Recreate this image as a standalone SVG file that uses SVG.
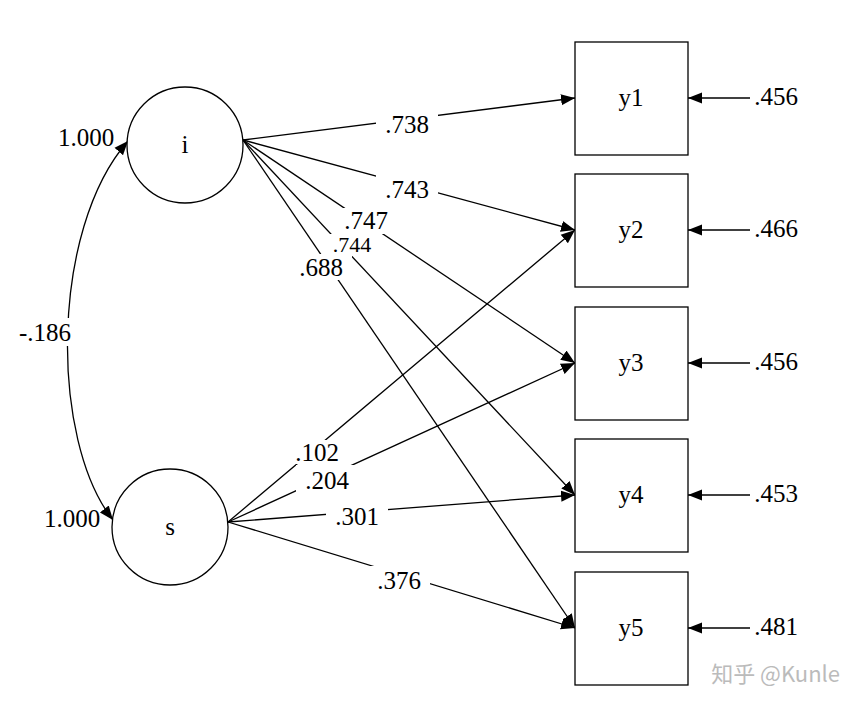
<svg xmlns="http://www.w3.org/2000/svg" width="865" height="708" viewBox="0 0 865 708">
<defs>
<marker id="a2" viewBox="0 0 10 10" refX="10" refY="5" markerWidth="14" markerHeight="14" markerUnits="userSpaceOnUse" orient="auto-start-reverse"><path d="M0,1L10,5L0,9z" fill="#000"/></marker>
<style>
text{font-family:"Liberation Serif","Times New Roman",serif;font-size:25px;fill:#000}
.n{fill:#fff;stroke:#000;stroke-width:1.3}
line,path.c{stroke:#000;stroke-width:1.3;fill:none}
.bg{fill:#fff}
</style>
</defs>
<rect width="865" height="708" fill="#fff"/>
<g id="connectors">
<path class="c" d="M128,141 C50,230 50,440 113,520" marker-start="url(#a2)" marker-end="url(#a2)"/>
<line x1="243" y1="140" x2="575" y2="98" marker-end="url(#a2)"/>
<line x1="243" y1="140" x2="575" y2="230" marker-end="url(#a2)"/>
<line x1="243" y1="140" x2="575" y2="363" marker-end="url(#a2)"/>
<line x1="243" y1="140" x2="575" y2="495" marker-end="url(#a2)"/>
<line x1="243" y1="140" x2="575" y2="628" marker-end="url(#a2)"/>
<line x1="228" y1="522" x2="575" y2="230" marker-end="url(#a2)"/>
<line x1="228" y1="522" x2="575" y2="363" marker-end="url(#a2)"/>
<line x1="228" y1="522" x2="575" y2="495" marker-end="url(#a2)"/>
<line x1="228" y1="522" x2="575" y2="628" marker-end="url(#a2)"/>
<line x1="750" y1="98" x2="688" y2="98" marker-end="url(#a2)"/>
<line x1="750" y1="230" x2="688" y2="230" marker-end="url(#a2)"/>
<line x1="750" y1="363" x2="688" y2="363" marker-end="url(#a2)"/>
<line x1="750" y1="495" x2="688" y2="495" marker-end="url(#a2)"/>
<line x1="750" y1="628" x2="688" y2="628" marker-end="url(#a2)"/>
</g>
<g id="labels">
<rect class="bg" x="376" y="110" width="62" height="28"/><text x="407" y="133" text-anchor="middle">.738</text>
<rect class="bg" x="376" y="175" width="62" height="28"/><text x="407" y="198" text-anchor="middle">.743</text>
<rect class="bg" x="336" y="208" width="58" height="26"/><text x="366" y="229" text-anchor="middle">.747</text>
<rect class="bg" x="322" y="234" width="60" height="22"/><text x="352" y="252" text-anchor="middle" style="font-size:22px">.744</text>
<rect class="bg" x="290" y="254" width="62" height="26"/><text x="321" y="276" text-anchor="middle">.688</text>
<rect class="bg" x="286" y="440" width="62" height="24"/><text x="317" y="461" text-anchor="middle">.102</text>
<rect class="bg" x="296" y="465" width="62" height="28"/><text x="327" y="489" text-anchor="middle">.204</text>
<rect class="bg" x="326" y="502" width="62" height="28"/><text x="357" y="525" text-anchor="middle">.301</text>
<rect class="bg" x="368" y="566" width="62" height="28"/><text x="399" y="589" text-anchor="middle">.376</text>
<rect class="bg" x="13" y="318" width="64" height="28"/><text x="45" y="341" text-anchor="middle">-.186</text>
<text x="86" y="146" text-anchor="middle">1.000</text>
<text x="72" y="527" text-anchor="middle">1.000</text>
<text x="776" y="105" text-anchor="middle">.456</text>
<text x="776" y="237" text-anchor="middle">.466</text>
<text x="776" y="370" text-anchor="middle">.456</text>
<text x="776" y="502" text-anchor="middle">.453</text>
<text x="776" y="635" text-anchor="middle">.481</text>
</g>
<g id="i"><circle class="n" cx="185" cy="145" r="58"/><text x="185" y="153" text-anchor="middle">i</text></g>
<g id="s"><circle class="n" cx="170" cy="527" r="58"/><text x="170" y="535" text-anchor="middle">s</text></g>
<g id="y1"><rect class="n" x="575" y="42" width="113" height="113"/><text x="631" y="106" text-anchor="middle">y1</text></g>
<g id="y2"><rect class="n" x="575" y="174" width="113" height="113"/><text x="631" y="238" text-anchor="middle">y2</text></g>
<g id="y3"><rect class="n" x="575" y="307" width="113" height="113"/><text x="631" y="371" text-anchor="middle">y3</text></g>
<g id="y4"><rect class="n" x="575" y="439" width="113" height="113"/><text x="631" y="503" text-anchor="middle">y4</text></g>
<g id="y5"><rect class="n" x="575" y="572" width="113" height="113"/><text x="631" y="636" text-anchor="middle">y5</text></g>
<text x="840" y="682" text-anchor="end" style="font-family:'Noto Sans CJK SC','Noto Sans',sans-serif;font-size:22px;fill:#bbb">知乎 @Kunle</text>
</svg>
